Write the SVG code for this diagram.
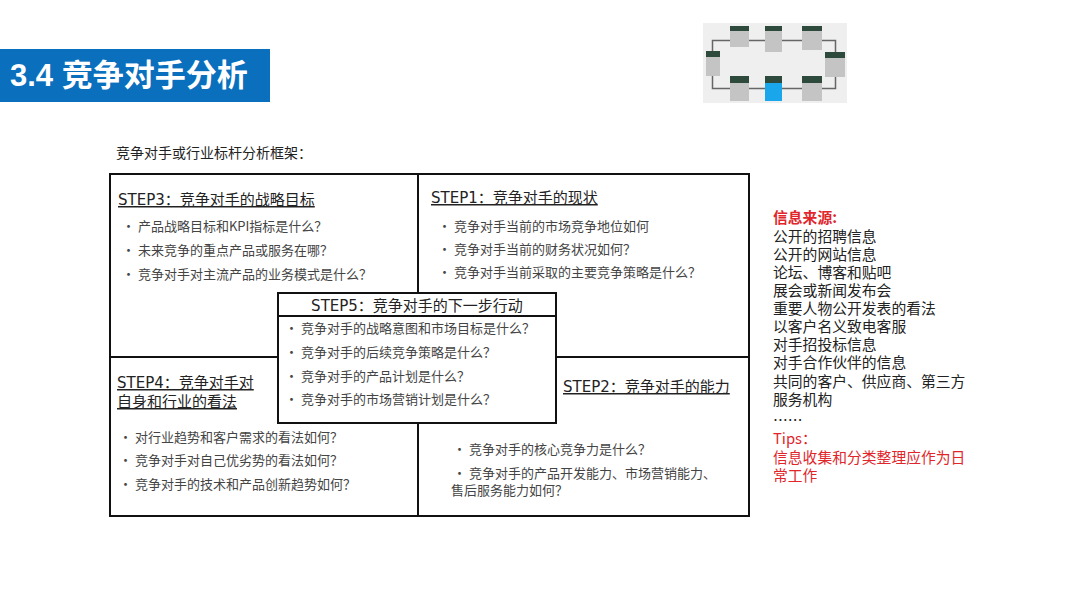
<svg xmlns="http://www.w3.org/2000/svg" width="1080" height="608" viewBox="0 0 1080 608">
<style>
.t{font-family:"DejaVu Sans","Noto Sans CJK SC",sans-serif;font-size:15px;fill:#222;text-decoration:underline}
.t5{font-family:"DejaVu Sans","Noto Sans CJK SC",sans-serif;font-size:15px;fill:#222}
.b{font-family:"Noto Sans CJK SC",sans-serif;font-size:13px;fill:#444}
.r{font-family:"Noto Sans CJK SC",sans-serif;font-size:14.8px;fill:#222}
.red{fill:#e0262b}
.frame{fill:none;stroke:#111;stroke-width:2}
.tb{fill:#c4c4c4}
.th{fill:#2e4a3c}
</style>
<rect width="1080" height="608" fill="#fff"/>
<g id="header">
<rect x="0" y="49" width="270" height="53" fill="#0a6fbd"/>
<text x="10" y="86" font-family="'Liberation Sans','Noto Sans CJK SC',sans-serif" font-size="31" font-weight="bold" fill="#fff">3.4 竞争对手分析</text>
</g>
<g id="thumbnail">
<rect x="703" y="23" width="144" height="80" fill="#efefef"/>
<path d="M712.5 51V40.5H730M749 40.5H765M782 40.5H802M822 40.5H835.5V52M712.5 76V88.5H730M749 88.5H765M782 88.5H802M822 88.5H835.5V77" fill="none" stroke="#666" stroke-width="1.5"/>
<rect class="tb" x="706" y="51" width="14" height="25"/><rect class="th" x="706" y="51" width="14" height="6"/>
<rect class="tb" x="730" y="26" width="19" height="21"/><rect class="th" x="730" y="26" width="19" height="5"/>
<rect class="tb" x="765" y="26" width="17" height="26"/><rect class="th" x="765" y="26" width="17" height="5"/>
<rect class="tb" x="802" y="26" width="20" height="24"/><rect class="th" x="802" y="26" width="20" height="5"/>
<rect class="tb" x="825" y="52" width="20" height="25"/><rect class="th" x="825" y="52" width="20" height="6"/>
<rect class="tb" x="730" y="76" width="19" height="25"/><rect class="th" x="730" y="76" width="19" height="7"/>
<rect fill="#1aa6ea" x="765" y="76" width="17" height="25"/><rect class="th" x="765" y="76" width="17" height="7"/>
<rect class="tb" x="802" y="76" width="20" height="25"/><rect class="th" x="802" y="76" width="20" height="7"/>
</g>
<text x="116" y="158" font-family="'Noto Sans CJK SC',sans-serif" font-size="14" fill="#222">竞争对手或行业标杆分析框架：</text>
<g id="frame">
<rect class="frame" x="110" y="174" width="639" height="342"/>
<line class="frame" x1="418" y1="174" x2="418" y2="516"/>
<line class="frame" x1="110" y1="357" x2="749" y2="357"/>
</g>
<g id="step3">
<text class="t" x="118" y="205">STEP3：竞争对手的战略目标</text>
<text class="b" x="122" y="231">•  产品战略目标和KPI指标是什么？</text>
<text class="b" x="122" y="255">•  未来竞争的重点产品或服务在哪？</text>
<text class="b" x="122" y="279">•  竞争对手对主流产品的业务模式是什么？</text>
</g>
<g id="step1">
<text class="t" x="431" y="203">STEP1：竞争对手的现状</text>
<text class="b" x="438" y="231">•  竞争对手当前的市场竞争地位如何</text>
<text class="b" x="438" y="254">•  竞争对手当前的财务状况如何？</text>
<text class="b" x="438" y="277">•  竞争对手当前采取的主要竞争策略是什么？</text>
</g>
<g id="step4">
<text class="t" x="117" y="388">STEP4：竞争对手对</text>
<text class="t" x="117" y="407">自身和行业的看法</text>
<text class="b" x="119" y="442">•  对行业趋势和客户需求的看法如何？</text>
<text class="b" x="119" y="465">•  竞争对手对自己优劣势的看法如何？</text>
<text class="b" x="119" y="489">•  竞争对手的技术和产品创新趋势如何？</text>
</g>
<g id="step2">
<text class="t" x="563" y="392">STEP2：竞争对手的能力</text>
<text class="b" x="453" y="454">•  竞争对手的核心竞争力是什么？</text>
<text class="b" x="453" y="478">•  竞争对手的产品开发能力、市场营销能力、</text>
<text class="b" x="451" y="495">售后服务能力如何？</text>
</g>
<g id="step5">
<rect x="278" y="293" width="278" height="130" fill="#fff" stroke="#111" stroke-width="2"/>
<line x1="278" y1="316" x2="556" y2="316" stroke="#111" stroke-width="2"/>
<text class="t5" x="417" y="311" text-anchor="middle">STEP5：竞争对手的下一步行动</text>
<text class="b" x="285" y="333">•  竞争对手的战略意图和市场目标是什么？</text>
<text class="b" x="285" y="357">•  竞争对手的后续竞争策略是什么？</text>
<text class="b" x="285" y="381">•  竞争对手的产品计划是什么？</text>
<text class="b" x="285" y="404">•  竞争对手的市场营销计划是什么？</text>
</g>
<g id="sources">
<text class="r red" x="773" y="223" font-weight="bold">信息来源:</text>
<text class="r" x="773" y="242">公开的招聘信息</text>
<text class="r" x="773" y="260">公开的网站信息</text>
<text class="r" x="773" y="278">论坛、博客和贴吧</text>
<text class="r" x="773" y="296">展会或新闻发布会</text>
<text class="r" x="773" y="314">重要人物公开发表的看法</text>
<text class="r" x="773" y="332">以客户名义致电客服</text>
<text class="r" x="773" y="350">对手招投标信息</text>
<text class="r" x="773" y="368">对手合作伙伴的信息</text>
<text class="r" x="773" y="387">共同的客户、供应商、第三方</text>
<text class="r" x="773" y="405">服务机构</text>
<text class="r" x="773" y="426">……</text>
<text class="r red" x="773" y="444">Tips：</text>
<text class="r red" x="773" y="463">信息收集和分类整理应作为日</text>
<text class="r red" x="773" y="481">常工作</text>
</g>
</svg>
